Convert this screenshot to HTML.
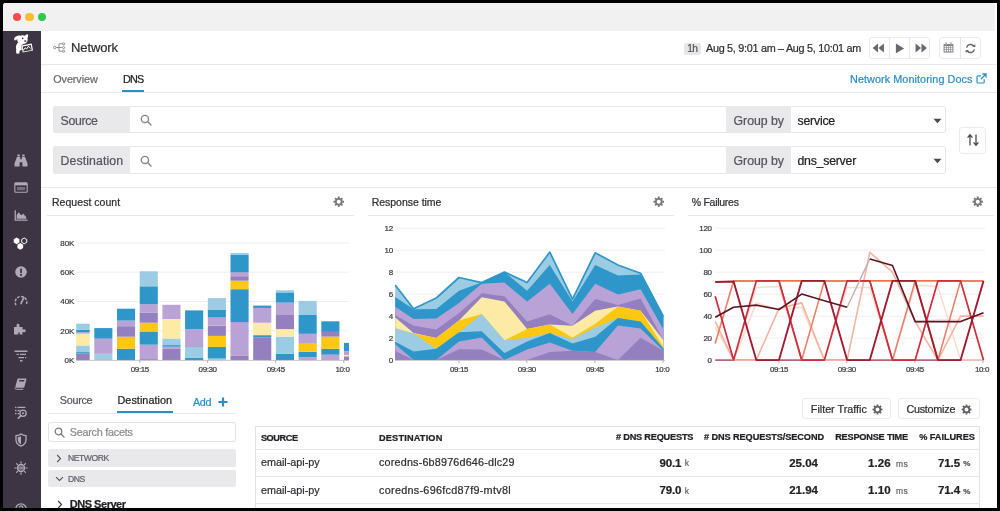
<!DOCTYPE html>
<html><head><meta charset="utf-8"><title>Network - DNS</title>
<style>
html,body{margin:0;padding:0;background:#000;}
body{width:1000px;height:511px;overflow:hidden;position:relative;font-family:"Liberation Sans",sans-serif;}
#win{position:absolute;left:3px;top:3px;width:993.5px;height:504.5px;background:#fff;overflow:hidden;border-radius:3px 0 0 0;}
.a{position:absolute;display:block;}
.t{position:absolute;white-space:pre;-webkit-text-stroke:0.22px currentColor;}
#page{position:absolute;left:-3px;top:-3px;width:1000px;height:511px;filter:blur(0.55px);}
.box{position:absolute;box-sizing:border-box;}
.btn{position:absolute;box-sizing:border-box;border:1px solid #eaeaee;border-radius:3px;background:#fff;}
.lab{position:absolute;background:#e9e9ec;}
.hl{position:absolute;height:1px;background:#e9e9ec;}
.vl{position:absolute;width:1px;background:#e6e6ea;}
</style></head><body>
<div id="win"><div id="page">

<div class="a" style="left:3px;top:3px;width:991.5px;height:28px;background:#f1f1f1"></div>
<div class="a" style="left:12.799999999999999px;top:12.799999999999999px;width:8.2px;height:8.2px;border-radius:50%;background:#fc4b42"></div>
<div class="a" style="left:25.4px;top:12.799999999999999px;width:8.2px;height:8.2px;border-radius:50%;background:#fdbd2d"></div>
<div class="a" style="left:38.0px;top:12.799999999999999px;width:8.2px;height:8.2px;border-radius:50%;background:#2fc84a"></div>
<div class="a" style="left:3px;top:31px;width:38.3px;height:480px;background:#3d3544"></div>
<svg class="a" style="left:12.7px;top:33.3px" width="21" height="22" viewBox="0 0 21 22"><path fill="#fff" d="M3.500 3.200C2 3.500.8 5 1.200 7.200c1.300.300 2.400-.400 3-1.200-.2 2 .8 4 2.800 4.800 2 .8 5 .4 6.600-1.200 1.200-1.200 1.400-3.200.8-4.600.8-1 1-2.600.4-3.800-1.200-.2-2.200.6-2.800 1.600-1.500-.8-3.500-.8-5 0-1-.4-2.400-.2-3.500.4z"/><path fill="#fff" d="M4.600 9.800C3 12 2.500 14.500 3.300 16.500c-.4 1.500-.2 3 .4 4.300l2.700-.4c-.2-1 0-2 .6-2.800l1.800-.6-.5-4.600 2-1.600z"/><path fill="#fff" d="M8.400 12.600l10.300-2 1.300 7-10.300 1.900z"/><path fill="#3d3544" d="M9.700 13.600l8.100-1.600.9 4.900-8.100 1.500z"/><path fill="none" stroke="#fff" stroke-width="1" d="M10.300 17.300l1.900-2.500 1.500 1.200 1.700-2.700 2.300 2.300"/><circle cx="9.700" cy="5.300" r=".85" fill="#3d3544"/><ellipse cx="12.300" cy="8" rx="1.200" ry=".85" fill="#3d3544"/></svg>
<svg class="a" style="left:13.9px;top:153.8px" width="14" height="13" viewBox="0 0 14 13"><path fill="#b0a8b9" d="M3.400 0.600h2.400v2h-2.400zM8.200 0.600h2.400v2h-2.400zM2.900 3h3.300v2.200h1.600V3h3.300l2.400 6.600v2.400a.6.600 0 0 1-.6.600H9a.6.600 0 0 1-.6-.6V8.300H5.600v3.700a.6.600 0 0 1-.6.600H1.100a.6.600 0 0 1-.6-.6V9.600z"/></svg>
<svg class="a" style="left:13.9px;top:182.3px" width="14" height="11" viewBox="0 0 14 11"><rect x=".8" y=".8" width="12.400" height="9.400" rx="1" fill="none" stroke="#b0a8b9" stroke-width="1.100"/><rect x="1" y="1" width="12" height="2.300" fill="#b0a8b9"/><rect x="3" y="5" width="8" height="3.200" fill="#b0a8b9" opacity=".5"/></svg>
<svg class="a" style="left:13.9px;top:210.3px" width="14" height="11" viewBox="0 0 14 11"><path fill="#b0a8b9" d="M.6.3h1.300v9.200H13.600v1.300H.6z"/><path fill="#b0a8b9" d="M2.700 8.700V5l2-2.700 2.300 3 2.200-1.600 3 3.200v1.800z"/></svg>
<svg class="a" style="left:13.4px;top:237.1px" width="15" height="13" viewBox="0 0 15 13"><path fill="#fff" d="M6.46,5.55 L3.60,7.20 L0.74,5.55 L0.74,2.25 L3.60,0.60 L6.46,2.25Z"/><path fill="#fff" d="M10.16,11.05 L7.30,12.70 L4.44,11.05 L4.44,7.75 L7.30,6.10 L10.16,7.75Z"/><path fill="none" stroke="#fff" stroke-width="1" d="M13.71,5.35 L11.20,6.80 L8.69,5.35 L8.69,2.45 L11.20,1.00 L13.71,2.45Z"/></svg>
<svg class="a" style="left:14.9px;top:266.2px" width="12" height="12" viewBox="0 0 12 12"><circle cx="6" cy="6" r="5.800" fill="#b0a8b9"/><rect x="5.100" y="2.400" width="1.800" height="4.600" rx=".5" fill="#3d3544"/><circle cx="6" cy="8.900" r="1.050" fill="#3d3544"/></svg>
<svg class="a" style="left:13.9px;top:295.0px" width="14" height="11" viewBox="0 0 14 11"><path fill="none" stroke="#b0a8b9" stroke-width="1.500" stroke-dasharray="2.600 1.400" d="M2 10.200A5.800 5.800 0 1 1 12 10.200"/><path d="M7 8.500L9.800 2.600" stroke="#b0a8b9" stroke-width="1.700" stroke-linecap="round"/></svg>
<svg class="a" style="left:13.4px;top:322.5px" width="14" height="12" viewBox="0 0 14 12"><path fill="#b0a8b9" d="M1 4h2.700V2.900a1.500 1.500 0 1 1 2.600 0V4H9.500v2.400h1a1.500 1.500 0 1 1 0 2.600h-1V11.500H6.700V9.600H5.300v1.900H1z"/></svg>
<svg class="a" style="left:13.9px;top:349.8px" width="14" height="12" viewBox="0 0 14 12"><path stroke="#b0a8b9" stroke-width="1.400" d="M.5 1.200h13M2.600 4.400h2.200M6 4.400h6M4.500 7.600h5.500M11 7.600h1.200M6 10.800h2.500"/></svg>
<svg class="a" style="left:14.4px;top:378.0px" width="13" height="12" viewBox="0 0 13 12"><path fill="#b0a8b9" d="M4.200.5h7.400c.6 0 1 .5.800 1.100l-2 7.300c-.1.500-.6.800-1.100.800H2.200c-.6 0-1-.5-.8-1.100l2-7.300C3.500.8 3.800.5 4.200.5z"/><path fill="#3d3544" d="M5.300 2h5.200l-.4 1.400H4.900z"/><path fill="none" stroke="#b0a8b9" stroke-width="1" d="M1.200 9.500c-.3 1 .2 1.800 1.200 1.800h6.800"/></svg>
<svg class="a" style="left:13.9px;top:405.5px" width="14" height="13" viewBox="0 0 14 13"><path stroke="#b0a8b9" stroke-width="1.300" d="M1 1.300h1.500M3.600 1.300h7.800M1 4.500h1.500M3.600 4.500h2M1 7.700h1.500M3.600 7.700h1.400"/><circle cx="9" cy="7.200" r="3.100" fill="none" stroke="#b0a8b9" stroke-width="1.300"/><path d="M6.900 9.600L4.300 12.300" stroke="#b0a8b9" stroke-width="1.600" stroke-linecap="round"/><circle cx="9" cy="7.200" r="1" fill="#b0a8b9"/></svg>
<svg class="a" style="left:14.9px;top:432.8px" width="12" height="14" viewBox="0 0 12 14"><path fill="none" stroke="#b0a8b9" stroke-width="1.300" d="M6 .9C4.500 2 2.800 2.500 1 2.600v4.200c0 3 2 5.200 5 6.300 3-1.100 5-3.300 5-6.300V2.600C9.200 2.500 7.500 2 6 .9z"/><path fill="#b0a8b9" d="M6 3.200v8.200c-1.900-.8-3.200-2.500-3.200-4.600V4.100C4 4 5.100 3.700 6 3.200z"/></svg>
<svg class="a" style="left:13.9px;top:461.2px" width="14" height="14" viewBox="0 0 14 14"><circle cx="7" cy="7" r="3.600" fill="none" stroke="#b0a8b9" stroke-width="1.200"/><path stroke="#b0a8b9" stroke-width=".9" fill="none" d="M3.400 7h7.200M7 3.400v7.200M5.400 3.900c-.8 1.900-.8 4.300 0 6.200M8.600 3.900c.8 1.900.8 4.300 0 6.200"/><path stroke="#b0a8b9" stroke-width="1.200" stroke-linecap="round" d="M7 .8v1.300M7 11.900v1.300M.8 7h1.300M11.900 7h1.300M2.600 2.600l.9.900M10.500 10.500l.9.900M2.600 11.400l.9-.9M10.500 3.500l.9-.9"/></svg>
<svg class="a" style="left:14.9px;top:503.3px" width="12" height="12" viewBox="0 0 12 12"><circle cx="6" cy="6" r="5.200" fill="none" stroke="#b0a8b9" stroke-width="1.300"/><path fill="none" stroke="#b0a8b9" stroke-width="1.200" d="M4.400 4.600a1.700 1.700 0 1 1 2.300 1.600"/></svg>
<div class="hl" style="left:41px;top:64px;width:956px;background:#e8e8eb"></div>
<svg class="a" style="left:52.7px;top:42.3px" width="13" height="11" viewBox="0 0 13 11"><circle cx="1.800" cy="5.500" r="1.200" fill="none" stroke="#85858e" stroke-width=".9"/><path fill="none" stroke="#85858e" stroke-width=".9" d="M3 5.500h6.400M6 5.500V1.800h3.400M6 5.500V9.200h3.400"/><circle cx="10.600" cy="1.800" r="1.100" fill="none" stroke="#85858e" stroke-width=".9"/><circle cx="10.600" cy="5.500" r="1.100" fill="none" stroke="#85858e" stroke-width=".9"/><circle cx="10.600" cy="9.200" r="1.100" fill="none" stroke="#85858e" stroke-width=".9"/></svg>
<div class="a" style="left:684px;top:42.5px;width:16.5px;height:12.5px;border-radius:2px;background:#e6e6ea"></div>
<div class="btn" style="left:868.5px;top:37px;width:61.5px;height:22px"></div>
<div class="vl" style="left:888.7px;top:38px;height:20px"></div><div class="vl" style="left:909.4px;top:38px;height:20px"></div>
<div class="btn" style="left:938.5px;top:37px;width:42.5px;height:22px"></div>
<div class="vl" style="left:959.5px;top:38px;height:20px"></div>
<svg class="a" style="left:872.1px;top:43.0px" width="12.5" height="10" viewBox="0 0 11 9"><path fill="#686870" d="M5.300.5v8L.4 4.500zM10.600.5v8L5.700 4.500z"/></svg>
<svg class="a" style="left:895.0px;top:42.6px" width="9.6" height="10.8" viewBox="0 0 9 10"><path fill="#686870" d="M.8.400L8.600 5 .8 9.600z"/></svg>
<svg class="a" style="left:914.5px;top:43.0px" width="12.5" height="10" viewBox="0 0 11 9"><path fill="#686870" d="M.4.500v8L5.300 4.500zM5.700.5v8L10.600 4.500z"/></svg>
<svg class="a" style="left:943.1px;top:42.3px" width="11" height="11" viewBox="0 0 11 11"><path fill="#7c7c84" d="M.6 2h9.800v8.500H.6z"/><path fill="#fff" d="M1.500 4h1.700v1.400H1.500zM3.800 4h1.500v1.400H3.800zM5.900 4h1.500v1.400H5.900zM8 4h1.500v1.400H8zM1.500 6h1.700v1.400H1.500zM3.800 6h1.500v1.400H3.800zM5.900 6h1.500v1.400H5.900zM8 6h1.500v1.400H8zM1.500 8h1.700v1.500H1.500zM3.800 8h1.500v1.500H3.800zM5.900 8h1.500v1.500H5.900zM8 8h1.500v1.500H8z" opacity=".9"/><rect x="2.300" y=".3" width="1.400" height="2.600" rx=".6" fill="#686870" stroke="#fff" stroke-width=".4"/><rect x="7.300" y=".3" width="1.400" height="2.600" rx=".6" fill="#686870" stroke="#fff" stroke-width=".4"/></svg>
<svg class="a" style="left:964.5px;top:42.5px" width="11" height="11" viewBox="0 0 11 11"><path fill="none" stroke="#686870" stroke-width="1.500" d="M1.600 4.600A4 4 0 0 1 8.700 3M9.400 6.400A4 4 0 0 1 2.300 8"/><path fill="#686870" d="M10.300.9v3.200H7.100zM.7 10.100V6.900h3.200z"/></svg>
<div class="hl" style="left:41px;top:92px;width:956px;background:#e8e8eb"></div>
<div class="a" style="left:122px;top:90.2px;width:22px;height:2.3px;background:#2b8ec6"></div>
<svg class="a" style="left:976px;top:73.3px" width="11" height="11" viewBox="0 0 11 11"><path d="M8.2 6.2v2.900a.9.900 0 0 1-.9.900H1.900a.900.900 0 0 1-.900-.900V3.700a.900.900 0 0 1 .900-.900h3" fill="none" stroke="#2b8ec6" stroke-width="1.200"/><path d="M6.300 1h3.700v3.700M9.800 1.200L4.900 6.100" fill="none" stroke="#2b8ec6" stroke-width="1.300"/></svg>
<div class="box" style="left:53.3px;top:105.8px;width:893px;height:27.4px;border:1px solid #e4e4e9;border-radius:3px;background:#fff"></div>
<div class="lab" style="left:53.3px;top:105.8px;width:77.2px;height:27.4px;border-radius:3px 0 0 3px"></div>
<div class="lab" style="left:726px;top:105.8px;width:65px;height:27.4px"></div>
<svg class="a" style="left:139.6px;top:114.4px" width="12" height="12" viewBox="0 0 12 12"><circle cx="4.9" cy="4.9" r="3.6" fill="none" stroke="#85858d" stroke-width="1.35"/><path d="M7.6 7.6L11 11" stroke="#85858d" stroke-width="1.35" stroke-linecap="round"/></svg>
<svg class="a" style="left:932.5px;top:117.8px" width="9" height="6" viewBox="0 0 9 6"><path d="M0.5 0.800h8L4.500 5.200z" fill="#4a4a52"/></svg>
<div class="box" style="left:53.3px;top:146.3px;width:893px;height:27.4px;border:1px solid #e4e4e9;border-radius:3px;background:#fff"></div>
<div class="lab" style="left:53.3px;top:146.3px;width:77.2px;height:27.4px;border-radius:3px 0 0 3px"></div>
<div class="lab" style="left:726px;top:146.3px;width:65px;height:27.4px"></div>
<svg class="a" style="left:139.6px;top:154.9px" width="12" height="12" viewBox="0 0 12 12"><circle cx="4.9" cy="4.9" r="3.6" fill="none" stroke="#85858d" stroke-width="1.35"/><path d="M7.6 7.6L11 11" stroke="#85858d" stroke-width="1.35" stroke-linecap="round"/></svg>
<svg class="a" style="left:932.5px;top:158.3px" width="9" height="6" viewBox="0 0 9 6"><path d="M0.5 0.800h8L4.500 5.200z" fill="#4a4a52"/></svg>
<div class="btn" style="left:959px;top:126.5px;width:27px;height:27px"></div>
<svg class="a" style="left:965.5px;top:133px" width="14" height="14" viewBox="0 0 14 14"><path d="M4 12.500V2M1.600 4.700L4 1.800l2.400 2.900M10 1.500V12M7.600 9.300L10 12.200l2.400-2.900" fill="none" stroke="#4a4a52" stroke-width="1.300"/></svg>
<div class="hl" style="left:41px;top:186.500px;width:956px;background:#e8e8ec"></div>
<div class="hl" style="left:47.3px;top:215.3px;width:306.7px;background:#e6e6ea"></div>
<div class="hl" style="left:367.5px;top:215.3px;width:306.5px;background:#e6e6ea"></div>
<div class="hl" style="left:687.5px;top:215.3px;width:306.5px;background:#e6e6ea"></div>
<svg class="a" style="left:332.8px;top:195.8px" width="11.5" height="11.5" viewBox="0.5 0.5 13 13"><path fill="#787880" fill-rule="evenodd" d="M11.26 5.91 L12.91 5.97 L12.91 8.03 L11.26 8.09 L10.79 9.24 L11.91 10.45 L10.45 11.91 L9.24 10.79 L8.09 11.26 L8.03 12.91 L5.97 12.91 L5.91 11.26 L4.76 10.79 L3.55 11.91 L2.09 10.45 L3.21 9.24 L2.74 8.09 L1.09 8.03 L1.09 5.97 L2.74 5.91 L3.21 4.76 L2.09 3.55 L3.55 2.09 L4.76 3.21 L5.91 2.74 L5.97 1.09 L8.03 1.09 L8.09 2.74 L9.24 3.21 L10.45 2.09 L11.91 3.55 L10.79 4.76Z M9.30 7 A2.3 2.3 0 1 0 4.70 7 A2.3 2.3 0 1 0 9.30 7Z"/></svg>
<svg class="a" style="left:652.8px;top:195.8px" width="11.5" height="11.5" viewBox="0.5 0.5 13 13"><path fill="#787880" fill-rule="evenodd" d="M11.26 5.91 L12.91 5.97 L12.91 8.03 L11.26 8.09 L10.79 9.24 L11.91 10.45 L10.45 11.91 L9.24 10.79 L8.09 11.26 L8.03 12.91 L5.97 12.91 L5.91 11.26 L4.76 10.79 L3.55 11.91 L2.09 10.45 L3.21 9.24 L2.74 8.09 L1.09 8.03 L1.09 5.97 L2.74 5.91 L3.21 4.76 L2.09 3.55 L3.55 2.09 L4.76 3.21 L5.91 2.74 L5.97 1.09 L8.03 1.09 L8.09 2.74 L9.24 3.21 L10.45 2.09 L11.91 3.55 L10.79 4.76Z M9.30 7 A2.3 2.3 0 1 0 4.70 7 A2.3 2.3 0 1 0 9.30 7Z"/></svg>
<svg class="a" style="left:971.5px;top:195.8px" width="11.5" height="11.5" viewBox="0.5 0.5 13 13"><path fill="#787880" fill-rule="evenodd" d="M11.26 5.91 L12.91 5.97 L12.91 8.03 L11.26 8.09 L10.79 9.24 L11.91 10.45 L10.45 11.91 L9.24 10.79 L8.09 11.26 L8.03 12.91 L5.97 12.91 L5.91 11.26 L4.76 10.79 L3.55 11.91 L2.09 10.45 L3.21 9.24 L2.74 8.09 L1.09 8.03 L1.09 5.97 L2.74 5.91 L3.21 4.76 L2.09 3.55 L3.55 2.09 L4.76 3.21 L5.91 2.74 L5.97 1.09 L8.03 1.09 L8.09 2.74 L9.24 3.21 L10.45 2.09 L11.91 3.55 L10.79 4.76Z M9.30 7 A2.3 2.3 0 1 0 4.70 7 A2.3 2.3 0 1 0 9.30 7Z"/></svg>
<svg class="a" style="left:0;top:0" width="1000" height="511" viewBox="0 0 1000 511">
<path d="M76 242.9H349" stroke="#efeff2" stroke-width="1"/>
<path d="M76 272.2H349" stroke="#efeff2" stroke-width="1"/>
<path d="M76 301.5H349" stroke="#efeff2" stroke-width="1"/>
<path d="M76 330.8H349" stroke="#efeff2" stroke-width="1"/>
<path d="M395 228.2H665" stroke="#efeff2" stroke-width="1"/>
<path d="M715 228.2H985" stroke="#efeff2" stroke-width="1"/>
<path d="M395 250.2H665" stroke="#efeff2" stroke-width="1"/>
<path d="M715 250.2H985" stroke="#efeff2" stroke-width="1"/>
<path d="M395 272.2H665" stroke="#efeff2" stroke-width="1"/>
<path d="M715 272.2H985" stroke="#efeff2" stroke-width="1"/>
<path d="M395 294.2H665" stroke="#efeff2" stroke-width="1"/>
<path d="M715 294.2H985" stroke="#efeff2" stroke-width="1"/>
<path d="M395 316.2H665" stroke="#efeff2" stroke-width="1"/>
<path d="M715 316.2H985" stroke="#efeff2" stroke-width="1"/>
<path d="M395 338.2H665" stroke="#efeff2" stroke-width="1"/>
<path d="M715 338.2H985" stroke="#efeff2" stroke-width="1"/>
<rect x="76.2" y="353.5" width="13.5" height="6.6" fill="#9580bf"/>
<rect x="76.2" y="352.1" width="13.5" height="1.4" fill="#2f96c9"/>
<rect x="76.2" y="345.5" width="13.5" height="6.6" fill="#9ccbe4"/>
<rect x="76.2" y="333.6" width="13.5" height="11.9" fill="#fdeba5"/>
<rect x="76.2" y="332.0" width="13.5" height="1.6" fill="#b9a2d6"/>
<rect x="76.2" y="329.9" width="13.5" height="2.1" fill="#2f96c9"/>
<rect x="76.2" y="323.7" width="13.5" height="6.2" fill="#9ccbe4"/>
<rect x="94.3" y="354.2" width="18.1" height="5.9" fill="#9ccbe4"/>
<rect x="94.3" y="353.5" width="18.1" height="0.6" fill="#9580bf"/>
<rect x="94.3" y="338.5" width="18.1" height="15.0" fill="#b9a2d6"/>
<rect x="94.3" y="328.1" width="18.1" height="10.5" fill="#2f96c9"/>
<rect x="117.0" y="348.8" width="18.1" height="11.3" fill="#2f96c9"/>
<rect x="117.0" y="336.7" width="18.1" height="12.1" fill="#fdc80f"/>
<rect x="117.0" y="326.2" width="18.1" height="10.5" fill="#9580bf"/>
<rect x="117.0" y="320.6" width="18.1" height="5.6" fill="#b9a2d6"/>
<rect x="117.0" y="308.7" width="18.1" height="11.9" fill="#2f96c9"/>
<rect x="139.7" y="359.1" width="18.1" height="1.0" fill="#9580bf"/>
<rect x="139.7" y="344.7" width="18.1" height="14.4" fill="#b9a2d6"/>
<rect x="139.7" y="331.5" width="18.1" height="13.2" fill="#2f96c9"/>
<rect x="139.7" y="322.7" width="18.1" height="8.8" fill="#fdc80f"/>
<rect x="139.7" y="312.8" width="18.1" height="9.9" fill="#9580bf"/>
<rect x="139.7" y="304.2" width="18.1" height="8.6" fill="#b9a2d6"/>
<rect x="139.7" y="286.3" width="18.1" height="17.9" fill="#2f96c9"/>
<rect x="139.7" y="271.3" width="18.1" height="15.0" fill="#9ccbe4"/>
<rect x="162.4" y="348.4" width="18.1" height="11.7" fill="#9580bf"/>
<rect x="162.4" y="346.8" width="18.1" height="1.6" fill="#b9a2d6"/>
<rect x="162.4" y="345.1" width="18.1" height="1.6" fill="#2f96c9"/>
<rect x="162.4" y="338.5" width="18.1" height="6.6" fill="#9ccbe4"/>
<rect x="162.4" y="319.0" width="18.1" height="19.5" fill="#fdeba5"/>
<rect x="162.4" y="304.8" width="18.1" height="14.2" fill="#b9a2d6"/>
<rect x="185.1" y="357.9" width="18.1" height="2.2" fill="#2f96c9"/>
<rect x="185.1" y="346.8" width="18.1" height="11.1" fill="#9ccbe4"/>
<rect x="185.1" y="345.3" width="18.1" height="1.4" fill="#9580bf"/>
<rect x="185.1" y="329.3" width="18.1" height="16.0" fill="#b9a2d6"/>
<rect x="185.1" y="310.4" width="18.1" height="18.9" fill="#2f96c9"/>
<rect x="207.8" y="358.7" width="18.1" height="1.4" fill="#9ccbe4"/>
<rect x="207.8" y="346.9" width="18.1" height="11.7" fill="#2f96c9"/>
<rect x="207.8" y="335.9" width="18.1" height="11.0" fill="#fdc80f"/>
<rect x="207.8" y="325.6" width="18.1" height="10.3" fill="#9580bf"/>
<rect x="207.8" y="317.3" width="18.1" height="8.2" fill="#b9a2d6"/>
<rect x="207.8" y="309.6" width="18.1" height="7.8" fill="#2f96c9"/>
<rect x="207.8" y="298.1" width="18.1" height="11.5" fill="#9ccbe4"/>
<rect x="230.5" y="355.4" width="18.1" height="4.7" fill="#9580bf"/>
<rect x="230.5" y="322.0" width="18.1" height="33.3" fill="#b9a2d6"/>
<rect x="230.5" y="289.2" width="18.1" height="32.9" fill="#2f96c9"/>
<rect x="230.5" y="280.7" width="18.1" height="8.5" fill="#fdc80f"/>
<rect x="230.5" y="276.2" width="18.1" height="4.5" fill="#9580bf"/>
<rect x="230.5" y="272.2" width="18.1" height="4.0" fill="#b9a2d6"/>
<rect x="230.5" y="254.9" width="18.1" height="17.4" fill="#2f96c9"/>
<rect x="230.5" y="253.0" width="18.1" height="1.9" fill="#9ccbe4"/>
<rect x="253.2" y="337.3" width="18.1" height="22.8" fill="#9580bf"/>
<rect x="253.2" y="335.2" width="18.1" height="2.1" fill="#2f96c9"/>
<rect x="253.2" y="322.7" width="18.1" height="12.4" fill="#fdeba5"/>
<rect x="253.2" y="307.9" width="18.1" height="14.8" fill="#b9a2d6"/>
<rect x="253.2" y="305.6" width="18.1" height="2.3" fill="#2f96c9"/>
<rect x="275.9" y="353.7" width="18.1" height="6.3" fill="#2f96c9"/>
<rect x="275.9" y="336.6" width="18.1" height="17.1" fill="#9ccbe4"/>
<rect x="275.9" y="329.1" width="18.1" height="7.5" fill="#fdeba5"/>
<rect x="275.9" y="314.3" width="18.1" height="14.8" fill="#9580bf"/>
<rect x="275.9" y="302.8" width="18.1" height="11.5" fill="#b9a2d6"/>
<rect x="275.9" y="292.4" width="18.1" height="10.3" fill="#2f96c9"/>
<rect x="275.9" y="290.3" width="18.1" height="2.1" fill="#9ccbe4"/>
<rect x="298.6" y="357.3" width="18.1" height="2.8" fill="#b9a2d6"/>
<rect x="298.6" y="351.9" width="18.1" height="5.4" fill="#2f96c9"/>
<rect x="298.6" y="343.6" width="18.1" height="8.2" fill="#fdc80f"/>
<rect x="298.6" y="333.8" width="18.1" height="9.9" fill="#b9a2d6"/>
<rect x="298.6" y="315.0" width="18.1" height="18.8" fill="#2f96c9"/>
<rect x="298.6" y="300.9" width="18.1" height="14.1" fill="#9ccbe4"/>
<rect x="321.3" y="354.7" width="18.1" height="5.4" fill="#b9a2d6"/>
<rect x="321.3" y="348.8" width="18.1" height="5.9" fill="#2f96c9"/>
<rect x="321.3" y="336.6" width="18.1" height="12.2" fill="#fdc80f"/>
<rect x="321.3" y="331.9" width="18.1" height="4.7" fill="#9580bf"/>
<rect x="321.3" y="321.3" width="18.1" height="10.6" fill="#2f96c9"/>
<rect x="344.0" y="356.3" width="5.0" height="3.8" fill="#9580bf"/>
<rect x="344.0" y="354.9" width="5.0" height="1.4" fill="#fdeba5"/>
<rect x="344.0" y="351.2" width="5.0" height="3.8" fill="#b9a2d6"/>
<rect x="344.0" y="342.9" width="5.0" height="8.2" fill="#2f96c9"/>
<path d="M76 360.400H349" stroke="#b8b8c0" stroke-width="0.800"/>
<g><path d="M395.2,285.1 L413.6,308.7 L436.3,298.0 L459.0,277.5 L481.7,282.6 L504.4,272.0 L527.1,282.6 L549.8,252.1 L572.5,299.1 L595.2,252.8 L617.9,265.0 L640.6,273.2 L663.5,316.7 L663.5,360.0 L395.2,360.0 Z" fill="#9ccbe4"/>
<path d="M395.2,297.0 L413.6,309.3 L436.3,308.9 L459.0,290.8 L481.7,282.6 L504.4,272.0 L527.1,290.8 L549.8,265.0 L572.5,301.4 L595.2,265.0 L617.9,275.6 L640.6,274.4 L663.5,316.7 L663.5,360.0 L395.2,360.0 Z" fill="#2f96c9"/>
<path d="M395.2,306.8 L413.6,319.1 L436.3,318.5 L459.0,303.1 L481.7,283.8 L504.4,282.6 L527.1,301.4 L549.8,283.8 L572.5,314.1 L595.2,283.8 L617.9,294.4 L640.6,289.2 L663.5,329.6 L663.5,360.0 L395.2,360.0 Z" fill="#b9a2d6"/>
<path d="M395.2,315.0 L413.6,325.7 L436.3,329.4 L459.0,313.0 L481.7,293.2 L504.4,296.2 L527.1,321.4 L549.8,314.3 L572.5,325.8 L595.2,299.1 L617.9,304.9 L640.6,298.6 L663.5,340.2 L663.5,360.0 L395.2,360.0 Z" fill="#9580bf"/>
<path d="M395.2,317.5 L413.6,332.9 L436.3,338.0 L459.0,320.6 L481.7,297.2 L504.4,301.4 L527.1,329.1 L549.8,324.4 L572.5,325.8 L595.2,310.8 L617.9,306.6 L640.6,310.8 L663.5,340.2 L663.5,360.0 L395.2,360.0 Z" fill="#fdeba5"/>
<path d="M395.2,328.2 L413.6,333.5 L436.3,338.0 L459.0,320.6 L481.7,313.9 L504.4,340.2 L527.1,329.1 L549.8,324.4 L572.5,337.6 L595.2,323.7 L617.9,306.6 L640.6,310.8 L663.5,347.2 L663.5,360.0 L395.2,360.0 Z" fill="#fdc80f"/>
<path d="M395.2,328.2 L413.6,333.5 L436.3,348.7 L459.0,332.3 L481.7,313.9 L504.4,340.2 L527.1,337.8 L549.8,333.1 L572.5,339.0 L595.2,327.3 L617.9,317.9 L640.6,321.4 L663.5,348.4 L663.5,360.0 L395.2,360.0 Z" fill="#9ccbe4"/>
<path d="M395.2,341.7 L413.6,351.4 L436.3,348.7 L459.0,332.3 L481.7,331.3 L504.4,353.1 L527.1,341.4 L549.8,333.1 L572.5,343.5 L595.2,336.7 L617.9,317.9 L640.6,321.4 L663.5,348.4 L663.5,360.0 L395.2,360.0 Z" fill="#2f96c9"/>
<path d="M395.2,344.2 L413.6,360.0 L436.3,360.0 L459.0,341.5 L481.7,337.4 L504.4,359.9 L527.1,349.6 L549.8,342.5 L572.5,350.8 L595.2,351.9 L617.9,325.6 L640.6,328.4 L663.5,350.8 L663.5,360.0 L395.2,360.0 Z" fill="#b9a2d6"/>
<path d="M395.2,351.0 L413.6,360.0 L436.3,360.0 L459.0,349.3 L481.7,349.6 L504.4,359.9 L527.1,359.9 L549.8,351.9 L572.5,350.8 L595.2,351.9 L617.9,359.9 L640.6,337.8 L663.5,350.8 L663.5,360.0 L395.2,360.0 Z" fill="#9580bf"/>
<path d="M395.2,285.1 L413.6,308.7 L436.3,298.0 L459.0,277.5 L481.7,282.6 L504.4,272.0 L527.1,282.6 L549.8,252.1 L572.5,299.1 L595.2,252.8 L617.9,265.0 L640.6,273.2 L663.5,316.7" fill="none" stroke="#2f96c9" stroke-width="1.700" stroke-linejoin="round"/></g>
<path d="M395 360.400H665" stroke="#b8b8c0" stroke-width="0.800"/>
<g><path d="M715.2,360.1 L983.5,360.1" stroke="#b4687a" stroke-width="1.6"/>
<path d="M715.2,327.1 L733.6,360.1 L756.3,302.9 L779.0,309.5 L801.7,307.3 L824.4,360.1 L847.1,287.5 L869.8,287.5 L892.5,360.1 L915.2,285.3 L937.9,286.4 L960.6,360.1 L983.5,360.1" fill="none" stroke="#fcdcd0" stroke-width="1.5" stroke-linejoin="round" stroke-linecap="butt"/>
<path d="M733.6,360.1 L756.3,287.5 L779.0,286.4 L801.7,360.1" fill="none" stroke="#fcdcd0" stroke-width="1.5" stroke-linejoin="round" stroke-linecap="butt"/>
<path d="M915.2,322.7 L937.9,319.4 L960.6,319.4" fill="none" stroke="#fde3da" stroke-width="1.5" stroke-linejoin="round" stroke-linecap="butt"/>
<path d="M715.2,321.6 L733.6,360.1 L756.3,360.1 L779.0,308.4 L801.7,302.9 L824.4,360.1 L847.1,360.1 L869.8,252.3 L892.5,272.1 L915.2,321.6 L937.9,360.1 L960.6,316.1 L983.5,316.1" fill="none" stroke="#f7b49f" stroke-width="1.6" stroke-linejoin="round" stroke-linecap="butt"/>
<path d="M733.6,280.9 L756.3,280.9 L779.0,280.9 L801.7,280.9 L824.4,280.9 L847.1,280.9 L869.8,280.9 L892.5,280.9 L915.2,280.9 L937.9,280.9 L960.6,280.9 L983.5,280.9" fill="none" stroke="#f2704c" stroke-width="1.7" stroke-linejoin="round" stroke-linecap="butt"/>
<path d="M715.2,343.6 L733.6,280.9 L756.3,280.9 L779.0,280.9 L801.7,360.1 L824.4,280.9 L847.1,280.9 L869.8,280.9 L892.5,360.1 L915.2,280.9 L937.9,360.1 L960.6,280.9 L983.5,280.9" fill="none" stroke="#ea7e66" stroke-width="1.6" stroke-linejoin="round" stroke-linecap="butt"/>
<path d="M715.2,296.3 L733.6,360.1 L756.3,280.9 L779.0,280.9 L801.7,360.1 L824.4,360.1 L847.1,280.9 L869.8,280.9 L892.5,360.1 L915.2,360.1 L937.9,280.9 L960.6,280.9 L983.5,360.1" fill="none" stroke="#cf2c3e" stroke-width="1.7" stroke-linejoin="round" stroke-linecap="butt"/>
<path d="M715.2,282.0 L733.6,281.5 L756.3,360.1 L779.0,360.1 L801.7,280.9 L824.4,280.9 L847.1,360.1 L869.8,360.1 L892.5,280.9 L915.2,280.9 L937.9,360.1 L960.6,360.1 L983.5,280.9" fill="none" stroke="#a31b2e" stroke-width="1.9" stroke-linejoin="round" stroke-linecap="butt"/>
<path d="M847.1,307.3 L869.8,258.9" fill="none" stroke="#c9a9ae" stroke-width="1.3" stroke-linejoin="round" stroke-linecap="butt"/>
<path d="M715.2,317.2 L733.6,307.3 L756.3,305.1 L779.0,309.5 L801.7,294.1 L824.4,300.7 L847.1,307.3" fill="none" stroke="#5c1524" stroke-width="1.6" stroke-linejoin="round" stroke-linecap="butt"/>
<path d="M869.8,258.9 L892.5,265.5 L915.2,321.6 L937.9,321.6 L960.6,321.6 L983.5,312.8" fill="none" stroke="#5c1524" stroke-width="1.6" stroke-linejoin="round" stroke-linecap="butt"/></g>
<path d="M139.8 360.500v2.500" stroke="#9a9aa2" stroke-width="0.800"/>
<path d="M207.6 360.500v2.500" stroke="#9a9aa2" stroke-width="0.800"/>
<path d="M275.7 360.500v2.500" stroke="#9a9aa2" stroke-width="0.800"/>
<path d="M343.8 360.500v2.500" stroke="#9a9aa2" stroke-width="0.800"/>
<path d="M459.0 360.500v2.500" stroke="#9a9aa2" stroke-width="0.800"/>
<path d="M526.8 360.500v2.500" stroke="#9a9aa2" stroke-width="0.800"/>
<path d="M594.9 360.500v2.500" stroke="#9a9aa2" stroke-width="0.800"/>
<path d="M663.0 360.500v2.500" stroke="#9a9aa2" stroke-width="0.800"/>
<path d="M779.0 360.500v2.500" stroke="#9a9aa2" stroke-width="0.800"/>
<path d="M846.8 360.500v2.500" stroke="#9a9aa2" stroke-width="0.800"/>
<path d="M914.9 360.500v2.500" stroke="#9a9aa2" stroke-width="0.800"/>
<path d="M983.0 360.500v2.500" stroke="#9a9aa2" stroke-width="0.800"/>
</svg>
<div class="hl" style="left:47.6px;top:413.3px;width:188.2px;background:#e8e8eb"></div>
<div class="a" style="left:117px;top:410.6px;width:56px;height:2.8px;background:#2b8ec6"></div>
<svg class="a" style="left:218px;top:397.2px" width="10" height="10" viewBox="0 0 10 10"><path d="M5 0.500v9M0.500 5h9" stroke="#2b8ec6" stroke-width="2.200"/></svg>
<div class="box" style="left:47.6px;top:421.6px;width:188.2px;height:20.8px;border:1px solid #e2e2e7;border-radius:3px"></div>
<svg class="a" style="left:53.7px;top:426.7px" width="11" height="11" viewBox="0 0 12 12"><circle cx="4.9" cy="4.9" r="3.6" fill="none" stroke="#7a7a82" stroke-width="1.4"/><path d="M7.6 7.6L11 11" stroke="#7a7a82" stroke-width="1.4" stroke-linecap="round"/></svg>
<div class="lab" style="left:47.6px;top:448.9px;width:188.2px;height:17.7px;border-radius:2px"></div>
<div class="lab" style="left:47.6px;top:470.2px;width:188.2px;height:17.2px;border-radius:2px"></div>
<svg class="a" style="left:56px;top:453.5px" width="6" height="9" viewBox="0 0 6 9"><path d="M1.200 1l3.300 3.500L1.200 8" fill="none" stroke="#55555c" stroke-width="1.100"/></svg>
<svg class="a" style="left:54.8px;top:476px" width="9" height="6" viewBox="0 0 9 6"><path d="M1 1.200l3.500 3.300L8 1.200" fill="none" stroke="#55555c" stroke-width="1.100"/></svg>
<svg class="a" style="left:56.5px;top:499.8px" width="6" height="9" viewBox="0 0 6 9"><path d="M1.200 1l3.300 3.500L1.200 8" fill="none" stroke="#33333a" stroke-width="1.100"/></svg>
<div class="btn" style="left:802px;top:398.4px;width:89.3px;height:21px"></div>
<div class="btn" style="left:898px;top:398.4px;width:82.3px;height:21px"></div>
<svg class="a" style="left:871.8px;top:403.7px" width="11" height="11" viewBox="0.5 0.5 13 13"><path fill="#60606a" fill-rule="evenodd" d="M11.26 5.91 L12.91 5.97 L12.91 8.03 L11.26 8.09 L10.79 9.24 L11.91 10.45 L10.45 11.91 L9.24 10.79 L8.09 11.26 L8.03 12.91 L5.97 12.91 L5.91 11.26 L4.76 10.79 L3.55 11.91 L2.09 10.45 L3.21 9.24 L2.74 8.09 L1.09 8.03 L1.09 5.97 L2.74 5.91 L3.21 4.76 L2.09 3.55 L3.55 2.09 L4.76 3.21 L5.91 2.74 L5.97 1.09 L8.03 1.09 L8.09 2.74 L9.24 3.21 L10.45 2.09 L11.91 3.55 L10.79 4.76Z M9.30 7 A2.3 2.3 0 1 0 4.70 7 A2.3 2.3 0 1 0 9.30 7Z"/></svg>
<svg class="a" style="left:961.0px;top:403.7px" width="11" height="11" viewBox="0.5 0.5 13 13"><path fill="#60606a" fill-rule="evenodd" d="M11.26 5.91 L12.91 5.97 L12.91 8.03 L11.26 8.09 L10.79 9.24 L11.91 10.45 L10.45 11.91 L9.24 10.79 L8.09 11.26 L8.03 12.91 L5.97 12.91 L5.91 11.26 L4.76 10.79 L3.55 11.91 L2.09 10.45 L3.21 9.24 L2.74 8.09 L1.09 8.03 L1.09 5.97 L2.74 5.91 L3.21 4.76 L2.09 3.55 L3.55 2.09 L4.76 3.21 L5.91 2.74 L5.97 1.09 L8.03 1.09 L8.09 2.74 L9.24 3.21 L10.45 2.09 L11.91 3.55 L10.79 4.76Z M9.30 7 A2.3 2.3 0 1 0 4.70 7 A2.3 2.3 0 1 0 9.30 7Z"/></svg>
<div class="box" style="left:254.8px;top:426px;width:725.6px;height:90px;border:1px solid #e2e2e6;border-bottom:none"></div>
<div class="hl" style="left:255.5px;top:448.6px;width:724.5px;background:#e6e6ea"></div>
<div class="hl" style="left:255.5px;top:476.0px;width:724.5px;background:#e6e6ea"></div>
<div class="hl" style="left:255.5px;top:503.4px;width:724.5px;background:#e6e6ea"></div>
<span class="t" style="left:71.00px;top:38.89px;font-size:13px;line-height:18px;font-weight:400;color:#2e2e33;letter-spacing:-0.098px">Network</span>
<span class="t" style="left:53.30px;top:71.82px;font-size:10.8px;line-height:15px;font-weight:400;color:#6a6a70;letter-spacing:-0.088px">Overview</span>
<span class="t" style="left:123.00px;top:71.82px;font-size:10.8px;line-height:15px;font-weight:400;color:#222226;letter-spacing:-0.766px">DNS</span>
<span class="t" style="left:687.30px;top:41.91px;font-size:10.2px;line-height:14px;font-weight:400;color:#555;letter-spacing:-0.722px">1h</span>
<span class="t" style="left:706.00px;top:41.22px;font-size:10.8px;line-height:15px;font-weight:400;color:#2e2e33;letter-spacing:-0.277px">Aug 5, 9:01 am – Aug 5, 10:01 am</span>
<span class="t" style="left:850.00px;top:71.82px;font-size:10.8px;line-height:15px;font-weight:400;color:#2b8ec6;letter-spacing:0.082px">Network Monitoring Docs</span>
<span class="t" style="left:60.60px;top:113.17px;font-size:12.3px;line-height:17px;font-weight:400;color:#55555c;letter-spacing:-0.345px">Source</span>
<span class="t" style="left:60.60px;top:153.07px;font-size:12.3px;line-height:17px;font-weight:400;color:#55555c;letter-spacing:0.097px">Destination</span>
<span class="t" style="left:733.50px;top:113.17px;font-size:12.3px;line-height:17px;font-weight:400;color:#55555c;letter-spacing:-0.012px">Group by</span>
<span class="t" style="left:733.50px;top:153.07px;font-size:12.3px;line-height:17px;font-weight:400;color:#55555c;letter-spacing:-0.012px">Group by</span>
<span class="t" style="left:797.50px;top:113.17px;font-size:12.3px;line-height:17px;font-weight:400;color:#222226;letter-spacing:-0.208px">service</span>
<span class="t" style="left:797.50px;top:153.07px;font-size:12.3px;line-height:17px;font-weight:400;color:#222226;letter-spacing:-0.234px">dns_server</span>
<span class="t" style="left:52.00px;top:194.62px;font-size:10.5px;line-height:15px;font-weight:400;color:#2e2e33;letter-spacing:0.037px">Request count</span>
<span class="t" style="left:371.70px;top:194.62px;font-size:10.5px;line-height:15px;font-weight:400;color:#2e2e33;letter-spacing:-0.027px">Response time</span>
<span class="t" style="left:691.70px;top:194.62px;font-size:10.5px;line-height:15px;font-weight:400;color:#2e2e33;letter-spacing:-0.261px">% Failures</span>
<span class="t" style="right:925.64px;top:237.64px;font-size:8px;line-height:11px;font-weight:400;color:#3a3a40;letter-spacing:-0.045px">80K</span>
<span class="t" style="right:925.64px;top:266.94px;font-size:8px;line-height:11px;font-weight:400;color:#3a3a40;letter-spacing:-0.045px">60K</span>
<span class="t" style="right:925.64px;top:296.24px;font-size:8px;line-height:11px;font-weight:400;color:#3a3a40;letter-spacing:-0.045px">40K</span>
<span class="t" style="right:925.64px;top:325.54px;font-size:8px;line-height:11px;font-weight:400;color:#3a3a40;letter-spacing:-0.045px">20K</span>
<span class="t" style="right:925.55px;top:354.84px;font-size:8px;line-height:11px;font-weight:400;color:#3a3a40;letter-spacing:0.052px">0K</span>
<span class="t" style="right:607.05px;top:222.94px;font-size:8px;line-height:11px;font-weight:400;color:#3a3a40;letter-spacing:-0.253px">12</span>
<span class="t" style="right:607.05px;top:244.94px;font-size:8px;line-height:11px;font-weight:400;color:#3a3a40;letter-spacing:-0.253px">10</span>
<span class="t" style="right:607.05px;top:266.94px;font-size:8px;line-height:11px;font-weight:400;color:#3a3a40;letter-spacing:-0.253px">8</span>
<span class="t" style="right:607.05px;top:288.94px;font-size:8px;line-height:11px;font-weight:400;color:#3a3a40;letter-spacing:-0.253px">6</span>
<span class="t" style="right:607.05px;top:310.94px;font-size:8px;line-height:11px;font-weight:400;color:#3a3a40;letter-spacing:-0.253px">4</span>
<span class="t" style="right:607.05px;top:332.94px;font-size:8px;line-height:11px;font-weight:400;color:#3a3a40;letter-spacing:-0.253px">2</span>
<span class="t" style="right:607.05px;top:354.74px;font-size:8px;line-height:11px;font-weight:400;color:#3a3a40;letter-spacing:-0.253px">0</span>
<span class="t" style="right:288.32px;top:222.94px;font-size:8px;line-height:11px;font-weight:400;color:#3a3a40;letter-spacing:-0.320px">120</span>
<span class="t" style="right:288.32px;top:244.94px;font-size:8px;line-height:11px;font-weight:400;color:#3a3a40;letter-spacing:-0.320px">100</span>
<span class="t" style="right:288.35px;top:266.94px;font-size:8px;line-height:11px;font-weight:400;color:#3a3a40;letter-spacing:-0.353px">80</span>
<span class="t" style="right:288.35px;top:288.94px;font-size:8px;line-height:11px;font-weight:400;color:#3a3a40;letter-spacing:-0.353px">60</span>
<span class="t" style="right:288.35px;top:310.94px;font-size:8px;line-height:11px;font-weight:400;color:#3a3a40;letter-spacing:-0.353px">40</span>
<span class="t" style="right:288.35px;top:332.94px;font-size:8px;line-height:11px;font-weight:400;color:#3a3a40;letter-spacing:-0.353px">20</span>
<span class="t" style="right:288.45px;top:354.84px;font-size:8px;line-height:11px;font-weight:400;color:#3a3a40;letter-spacing:-0.453px">0</span>
<span class="t" style="left:130.80px;top:363.74px;font-size:8px;line-height:11px;font-weight:400;color:#3a3a40;letter-spacing:-0.406px">09:15</span>
<span class="t" style="left:198.60px;top:363.74px;font-size:8px;line-height:11px;font-weight:400;color:#3a3a40;letter-spacing:-0.406px">09:30</span>
<span class="t" style="left:266.70px;top:363.74px;font-size:8px;line-height:11px;font-weight:400;color:#3a3a40;letter-spacing:-0.406px">09:45</span>
<span class="t" style="left:450.00px;top:363.74px;font-size:8px;line-height:11px;font-weight:400;color:#3a3a40;letter-spacing:-0.406px">09:15</span>
<span class="t" style="left:517.80px;top:363.74px;font-size:8px;line-height:11px;font-weight:400;color:#3a3a40;letter-spacing:-0.406px">09:30</span>
<span class="t" style="left:585.90px;top:363.74px;font-size:8px;line-height:11px;font-weight:400;color:#3a3a40;letter-spacing:-0.406px">09:45</span>
<span class="t" style="left:770.00px;top:363.74px;font-size:8px;line-height:11px;font-weight:400;color:#3a3a40;letter-spacing:-0.406px">09:15</span>
<span class="t" style="left:837.80px;top:363.74px;font-size:8px;line-height:11px;font-weight:400;color:#3a3a40;letter-spacing:-0.406px">09:30</span>
<span class="t" style="left:905.90px;top:363.74px;font-size:8px;line-height:11px;font-weight:400;color:#3a3a40;letter-spacing:-0.406px">09:45</span>
<span class="t" style="left:335.50px;top:363.74px;font-size:8px;line-height:11px;font-weight:400;color:#3a3a40;letter-spacing:-0.395px">10:0</span>
<span class="t" style="left:655.30px;top:363.74px;font-size:8px;line-height:11px;font-weight:400;color:#3a3a40;letter-spacing:-0.395px">10:0</span>
<span class="t" style="left:975.00px;top:363.74px;font-size:8px;line-height:11px;font-weight:400;color:#3a3a40;letter-spacing:-0.395px">10:0</span>
<span class="t" style="left:59.80px;top:393.12px;font-size:10.8px;line-height:15px;font-weight:400;color:#55555c;letter-spacing:-0.286px">Source</span>
<span class="t" style="left:117.50px;top:393.12px;font-size:10.8px;line-height:15px;font-weight:400;color:#222226;letter-spacing:0.052px">Destination</span>
<span class="t" style="left:193.00px;top:394.82px;font-size:10.8px;line-height:15px;font-weight:400;color:#2b8ec6;letter-spacing:-0.406px">Add</span>
<span class="t" style="left:69.70px;top:424.82px;font-size:10.8px;line-height:15px;font-weight:400;color:#8a8a90;letter-spacing:-0.240px">Search facets</span>
<span class="t" style="left:68.00px;top:452.26px;font-size:8.6px;line-height:12px;font-weight:400;color:#62626a;letter-spacing:-0.460px">NETWORK</span>
<span class="t" style="left:68.00px;top:473.26px;font-size:8.6px;line-height:12px;font-weight:400;color:#62626a;letter-spacing:-0.452px">DNS</span>
<span class="t" style="left:69.70px;top:497.43px;font-size:11px;line-height:15px;font-weight:700;color:#222226;letter-spacing:-0.465px">DNS Server</span>
<span class="t" style="left:810.80px;top:401.82px;font-size:10.8px;line-height:15px;font-weight:400;color:#2e2e33;letter-spacing:-0.015px">Filter Traffic</span>
<span class="t" style="left:906.40px;top:401.82px;font-size:10.8px;line-height:15px;font-weight:400;color:#2e2e33;letter-spacing:-0.246px">Customize</span>
<span class="t" style="left:260.90px;top:431.58px;font-size:9.2px;line-height:13px;font-weight:700;color:#222226;letter-spacing:-0.402px">SOURCE</span>
<span class="t" style="left:379.00px;top:431.58px;font-size:9.2px;line-height:13px;font-weight:700;color:#222226;letter-spacing:0.173px">DESTINATION</span>
<span class="t" style="left:616.00px;top:431.38px;font-size:9.2px;line-height:13px;font-weight:700;color:#222226;letter-spacing:-0.211px"># DNS REQUESTS</span>
<span class="t" style="left:704.00px;top:431.38px;font-size:9.2px;line-height:13px;font-weight:700;color:#222226;letter-spacing:-0.096px"># DNS REQUESTS/SECOND</span>
<span class="t" style="left:835.20px;top:431.38px;font-size:9.2px;line-height:13px;font-weight:700;color:#222226;letter-spacing:-0.213px">RESPONSE TIME</span>
<span class="t" style="left:919.20px;top:431.38px;font-size:9.2px;line-height:13px;font-weight:700;color:#222226;letter-spacing:-0.056px">% FAILURES</span>
<span class="t" style="left:260.90px;top:455.42px;font-size:10.8px;line-height:15px;font-weight:400;color:#2e2e33;letter-spacing:0.007px">email-api-py</span>
<span class="t" style="left:379.00px;top:455.42px;font-size:10.8px;line-height:15px;font-weight:400;color:#2e2e33;letter-spacing:0.176px">coredns-6b8976d646-dlc29</span>
<span class="t" style="left:659.50px;top:454.95px;font-size:11.5px;line-height:16px;font-weight:700;color:#222226;letter-spacing:-0.173px">90.1</span>
<span class="t" style="left:684.80px;top:457.46px;font-size:8.5px;line-height:12px;font-weight:400;color:#666;letter-spacing:0.550px">k</span>
<span class="t" style="left:789.20px;top:454.95px;font-size:11.5px;line-height:16px;font-weight:700;color:#222226;letter-spacing:0.004px">25.04</span>
<span class="t" style="left:868.00px;top:454.95px;font-size:11.5px;line-height:16px;font-weight:700;color:#222226;letter-spacing:0.102px">1.26</span>
<span class="t" style="left:896.00px;top:457.66px;font-size:8.5px;line-height:12px;font-weight:400;color:#666;letter-spacing:0.328px">ms</span>
<span class="t" style="left:938.00px;top:454.95px;font-size:11.5px;line-height:16px;font-weight:700;color:#222226;letter-spacing:-0.098px">71.5</span>
<span class="t" style="left:963.20px;top:458.14px;font-size:8px;line-height:11px;font-weight:700;color:#55555c;letter-spacing:0.875px">%</span>
<span class="t" style="left:260.90px;top:482.92px;font-size:10.8px;line-height:15px;font-weight:400;color:#2e2e33;letter-spacing:0.007px">email-api-py</span>
<span class="t" style="left:379.00px;top:482.92px;font-size:10.8px;line-height:15px;font-weight:400;color:#2e2e33;letter-spacing:0.294px">coredns-696fcd87f9-mtv8l</span>
<span class="t" style="left:659.50px;top:482.45px;font-size:11.5px;line-height:16px;font-weight:700;color:#222226;letter-spacing:-0.173px">79.0</span>
<span class="t" style="left:684.80px;top:484.96px;font-size:8.5px;line-height:12px;font-weight:400;color:#666;letter-spacing:0.550px">k</span>
<span class="t" style="left:789.20px;top:482.45px;font-size:11.5px;line-height:16px;font-weight:700;color:#222226;letter-spacing:0.004px">21.94</span>
<span class="t" style="left:868.00px;top:482.45px;font-size:11.5px;line-height:16px;font-weight:700;color:#222226;letter-spacing:0.102px">1.10</span>
<span class="t" style="left:896.00px;top:485.16px;font-size:8.5px;line-height:12px;font-weight:400;color:#666;letter-spacing:0.328px">ms</span>
<span class="t" style="left:938.00px;top:482.45px;font-size:11.5px;line-height:16px;font-weight:700;color:#222226;letter-spacing:-0.098px">71.4</span>
<span class="t" style="left:963.20px;top:485.64px;font-size:8px;line-height:11px;font-weight:700;color:#55555c;letter-spacing:0.875px">%</span>
</div></div>
</body></html>
